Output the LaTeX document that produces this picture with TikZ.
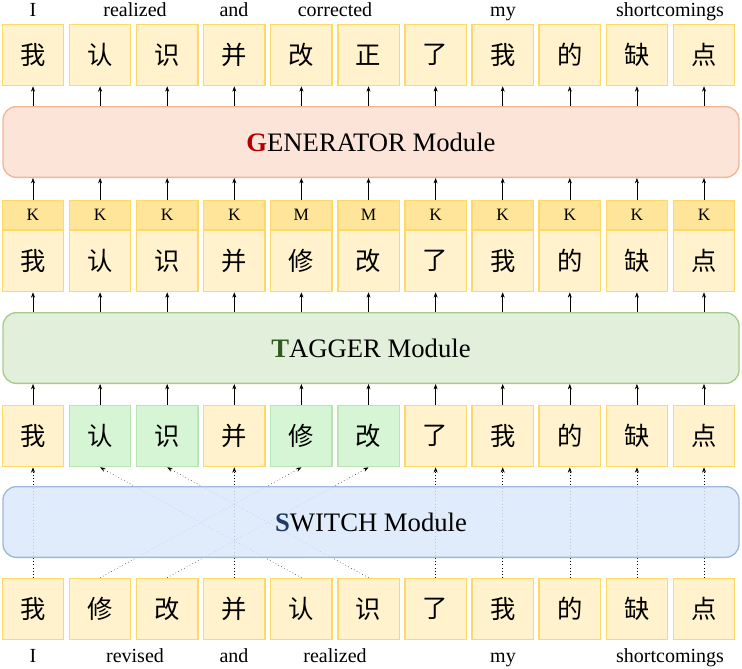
\documentclass[tikz,border=0pt]{standalone}
\usepackage{fontspec}
\setmainfont{Liberation Serif}
\newfontfamily\cjk{Noto Sans CJK SC}
\usetikzlibrary{arrows.meta,positioning}
\definecolor{yfill}{HTML}{FFF2CC}
\definecolor{ydraw}{HTML}{FFD966}
\definecolor{gfill}{HTML}{D5F5D5}
\definecolor{gdraw}{HTML}{B9E6B0}
\definecolor{kfill}{HTML}{FFE599}
\definecolor{mfill}{HTML}{FADFD3}
\definecolor{genfill}{HTML}{FCE5D8}
\definecolor{gendraw}{HTML}{F0B593}
\definecolor{tagfill}{HTML}{E2EFDA}
\definecolor{tagdraw}{HTML}{A6CC8A}
\definecolor{swfill}{HTML}{DAE8FC}
\definecolor{swdraw}{HTML}{9DB8DE}
\tikzset{
  charbox/.style={draw=ydraw, fill=yfill, line width=1pt, minimum width=46pt,
    minimum height=46pt, inner sep=0pt, font=\cjk\fontsize{19}{19}\selectfont},
  tagbox/.style={draw=ydraw, fill=kfill, line width=1pt, minimum width=46pt,
    minimum height=22pt, inner sep=0pt, font=\fontsize{13}{13}\selectfont},
  module/.style={rounded corners=10pt, line width=1pt, minimum width=552pt,
    minimum height=53pt, font=\fontsize{20}{20}\selectfont},
  word/.style={font=\fontsize{15}{15}\selectfont, inner sep=0pt, anchor=base},
  arrow/.style={-{Stealth[length=4pt,width=3pt]}, thin},
  swarrow/.style={-{Stealth[length=4pt,width=3pt]}, thin, dotted}
}
\begin{document}
\begin{tikzpicture}[x=0.75pt,y=-0.75pt]
  \useasboundingbox (0,0) rectangle (742,668);

  % output row
  \foreach \c [count=\i from 0] in {我,认,识,并,改,正,了,我,的,缺,点}
    \node[charbox] (top\i) at (33+67.1*\i,55) {\c};
  \node[module, draw=gendraw, fill=genfill] (gen) at (371,142)
    {\textcolor[HTML]{B20000}{\textbf{G}}ENERATOR Module};

  % tagged row
  \foreach \c/\t [count=\i from 0] in {我/K,认/K,识/K,并/K,修/M,改/M,了/K,我/K,的/K,缺/K,点/K}{
    \node[charbox] (mid\i) at (33+67.1*\i,261) {\c};
    \ifx\t M
      \node[tagbox, fill=mfill] (kt\i) at (33+67.1*\i,215) {\t};
    \else
      \node[tagbox] (kt\i) at (33+67.1*\i,215) {\t};
    \fi
  }
  \node[module, draw=tagdraw, fill=tagfill] (tag) at (371,348)
    {\textcolor[HTML]{2E5A1E}{\textbf{T}}AGGER Module};

  % switched row
  \foreach \c/\g [count=\i from 0] in {我/0,认/1,识/1,并/0,修/1,改/1,了/0,我/0,的/0,缺/0,点/0}{
    \ifnum\g=1
      \node[charbox, draw=gdraw, fill=gfill] (sw\i) at (33+67.1*\i,436) {\c};
    \else
      \node[charbox] (sw\i) at (33+67.1*\i,436) {\c};
    \fi
  }

  % input row
  \foreach \c [count=\i from 0] in {我,修,改,并,认,识,了,我,的,缺,点}
    \node[charbox] (bot\i) at (33+67.1*\i,609) {\c};

  % Arrows
  \foreach \i in {0,...,10}{
    \draw[arrow] (gen.north -| top\i) -- (top\i.south);
    \draw[arrow] (kt\i.north) -- (gen.south -| kt\i);
    \draw[arrow] (tag.north -| mid\i) -- (mid\i.south);
    \draw[arrow] (sw\i.north) -- (tag.south -| sw\i);
  }
  \foreach \s/\d in {0/0,1/4,2/5,3/3,4/1,5/2,6/6,7/7,8/8,9/9,10/10}
    \draw[swarrow] (bot\s.north) -- (sw\d.south);

  \node[module, draw=swdraw, fill=swfill, fill opacity=0.85, text opacity=1] (swi) at (371,522)
    {\textcolor[HTML]{1F3A68}{\textbf{S}}WITCH Module};

  % words
  \foreach \w/\x in {I/33,realized/135,and/234,corrected/335,my/503,shortcomings/670}
    \node[word] (tw\x) at (\x,16) {\w};
  \foreach \w/\x in {I/33,revised/135,and/234,realized/335,my/503,shortcomings/670}
    \node[word] (bw\x) at (\x,662) {\w};
\end{tikzpicture}
\end{document}
